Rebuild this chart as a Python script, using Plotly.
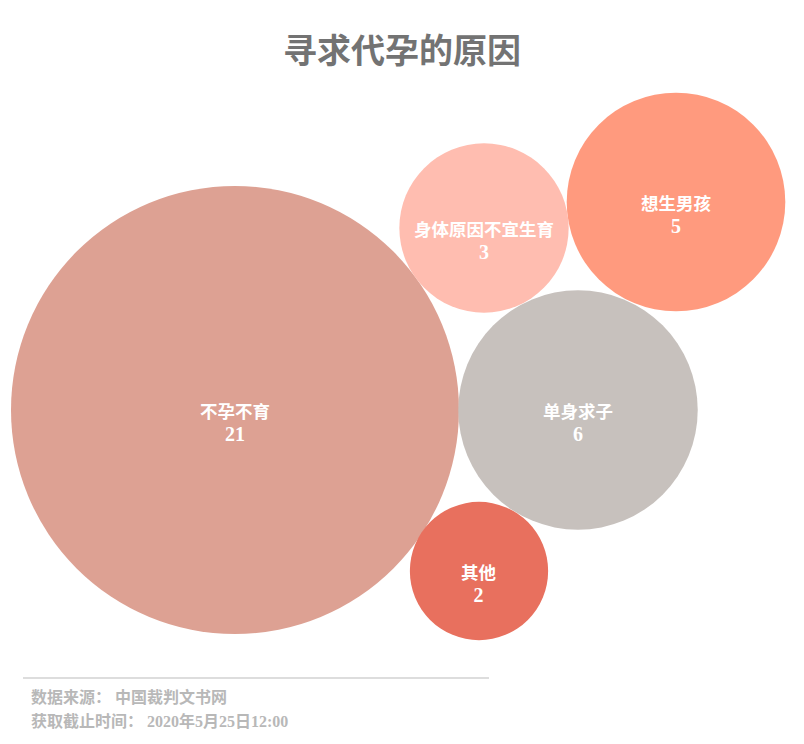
import plotly.graph_objects as go
import math

# Data
categories = ["不孕不育", "单身求子", "想生男孩", "身体原因不宜生育", "其他"]
values = [21, 6, 5, 3, 2]
colors = ["#DDA193", "#C7C1BD", "#FF9A7E", "#FFBDB0", "#E8705E"]

# Layout of packed bubbles (centre positions in pixel space)
centers_x = [235, 578, 676, 484, 479]
centers_y = [410, 410, 202, 228, 571]

W, H = 804, 744
k = 448 / math.sqrt(21)  # diameter scale (area proportional to value)
sizes = [k * math.sqrt(v) for v in values]

fig = go.Figure()
fig.add_trace(go.Scatter(
    x=centers_x, y=centers_y, mode="markers",
    marker=dict(size=sizes, sizemode="diameter", color=colors, opacity=1, line=dict(width=0)),
    hoverinfo="text", text=[f"{c}: {v}" for c, v in zip(categories, values)],
    showlegend=False,
))

for c, v, x, y in zip(categories, values, centers_x, centers_y):
    fig.add_annotation(
        x=x, y=y, xref="x", yref="y",
        text=f"{c}<br><span style='font-size:20px'>{v}</span>", showarrow=False,
        yanchor="middle", xanchor="center", yshift=-13,
        font=dict(family="Liberation Serif, Noto Sans CJK SC", size=17.5, color="white", weight="bold"),
        align="center",
    )

fig.add_annotation(
    x=0.5, y=48, xref="paper", yref="y", text="寻求代孕的原因", showarrow=False,
    font=dict(family="Noto Sans CJK SC", size=34, color="#737373", weight="bold"),
)
fig.add_shape(type="line", x0=23, x1=489, y0=678, y1=678, xref="x", yref="y",
              line=dict(color="#BBBBBB", width=1))
fig.add_annotation(x=29, y=697, xref="x", yref="y", xanchor="left", showarrow=False,
                   text="数据来源：&nbsp;中国裁判文书网",
                   font=dict(family="Liberation Serif, Noto Sans CJK SC", size=16, color="#B8B8B8", weight="bold"))
fig.add_annotation(x=29, y=721, xref="x", yref="y", xanchor="left", showarrow=False,
                   text="获取截止时间：&nbsp;2020年5月25日12:00",
                   font=dict(family="Liberation Serif, Noto Sans CJK SC", size=16, color="#B8B8B8", weight="bold"))

fig.update_layout(
    width=W, height=H, margin=dict(l=0, r=0, t=0, b=0),
    paper_bgcolor="white", plot_bgcolor="white",
    xaxis=dict(range=[0, W], visible=False, fixedrange=True),
    yaxis=dict(range=[H, 0], visible=False, fixedrange=True),
)
fig.write_html("out.html")
